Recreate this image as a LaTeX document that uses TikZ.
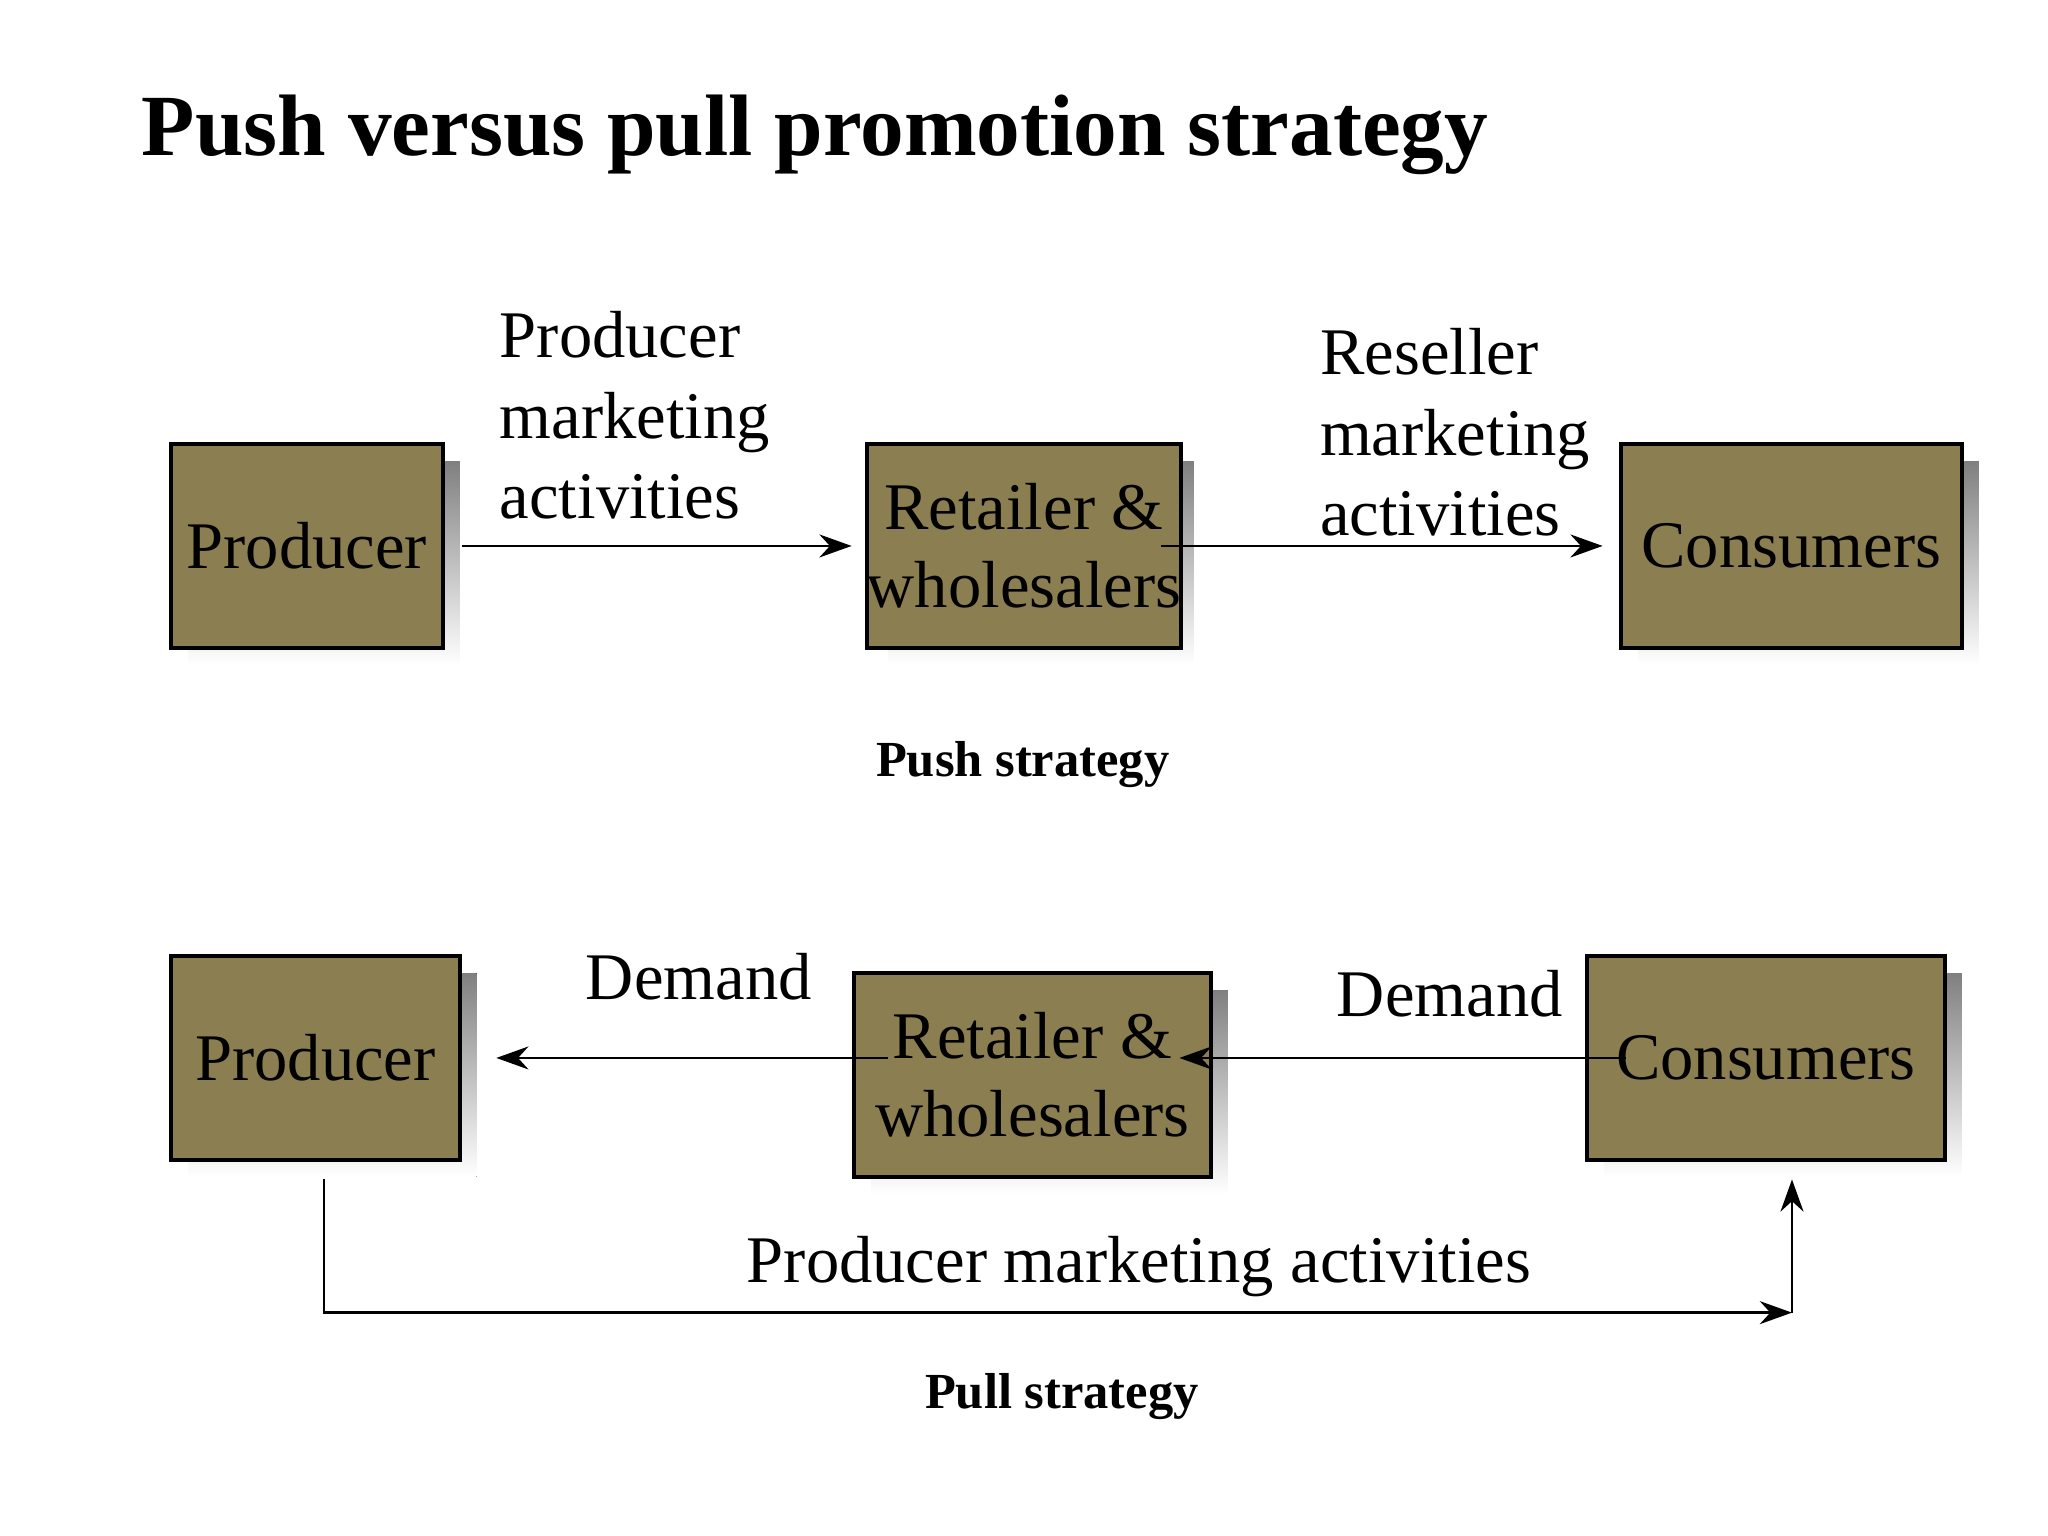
\documentclass[tikz,border=0pt]{standalone}
\usepackage{fontspec}
\setmainfont{Liberation Serif}
\usetikzlibrary{arrows.meta}
\definecolor{boxfill}{RGB}{139,126,80}
\definecolor{shade}{RGB}{236,236,224}
\tikzset{
 bx/.style={draw=black, line width=0.8pt, fill=boxfill, font=\fontsize{14.5}{17}\selectfont, align=center, inner sep=0pt},
 lbl/.style={font=\fontsize{14.5}{17.5}\selectfont, align=left, inner sep=0pt},
 captxt/.style={font=\bfseries\fontsize{11}{13}\selectfont, inner sep=0pt},
 arr/.style={-{Stealth[length=7pt,width=5pt]}, line width=0.6pt},
}
\newcommand{\mybox}[6]{% name, x1,y1,x2,y2,text
 \fill[shade] (#2+13,#3+13) rectangle (#4+13,#5+13);
 \node[bx, minimum width={(#4-#2)*0.01cm}, minimum height={(#5-#3)*0.01cm}] (#1) at ({(#2+#4)/2},{(#3+#5)/2}) {#6};
}
\begin{document}
\begin{tikzpicture}[x=0.01cm,y=-0.01cm]
\useasboundingbox (0,0) rectangle (1568,1176);
\node[anchor=west, inner sep=0pt, font=\bfseries\fontsize{19}{22}\selectfont] (title) at (108,103) {Push versus pull promotion strategy};
% push
\mybox{p1}{131}{340}{339}{496}{Producer}
\mybox{r1}{667}{340}{901}{496}{Retailer \&\\wholesalers}
\mybox{c1}{1241}{340}{1502}{496}{Consumers}
\coordinate (a1s) at (354,418); \coordinate (a1e) at (652,418);
\coordinate (a2s) at (889,418); \coordinate (a2e) at (1227,418);
\draw[arr] (a1s) -- (a1e);
\draw[arr] (a2s) -- (a2e);
\node[lbl, anchor=north west] (l1) at (382,238) {Producer\\marketing\\activities};
\node[lbl, anchor=north west] (l2) at (1010,251) {Reseller\\marketing\\activities};
\node[captxt] (ps) at (783,585) {Push strategy};
% pull
\mybox{p2}{131}{732}{352}{888}{Producer}
\mybox{r2}{654}{745}{927}{901}{Retailer \&\\wholesalers}
\mybox{c2}{1215}{732}{1489}{888}{Consumers}
\coordinate (b1s) at (680,810); \coordinate (b1e) at (380,810);
\coordinate (b2s) at (1245,810); \coordinate (b2e) at (903,810);
\draw[arr] (b1s) -- (b1e);
\draw[arr] (b2s) -- (b2e);
\node[lbl] (d1) at (535,748) {Demand};
\node[lbl] (d2) at (1110,761) {Demand};
\coordinate (q1) at (248,903); \coordinate (q2) at (248,1005);
\coordinate (q3) at (1372,1005); \coordinate (q4) at (1372,903);
\draw[arr] (q1) -- (q2) -- (q3);
\draw[arr] (q3) -- (q4);
\node[lbl] (pm) at (872,970) {Producer marketing activities};
\node[captxt] (pl) at (813,1069) {Pull strategy};
\end{tikzpicture}
\end{document}
